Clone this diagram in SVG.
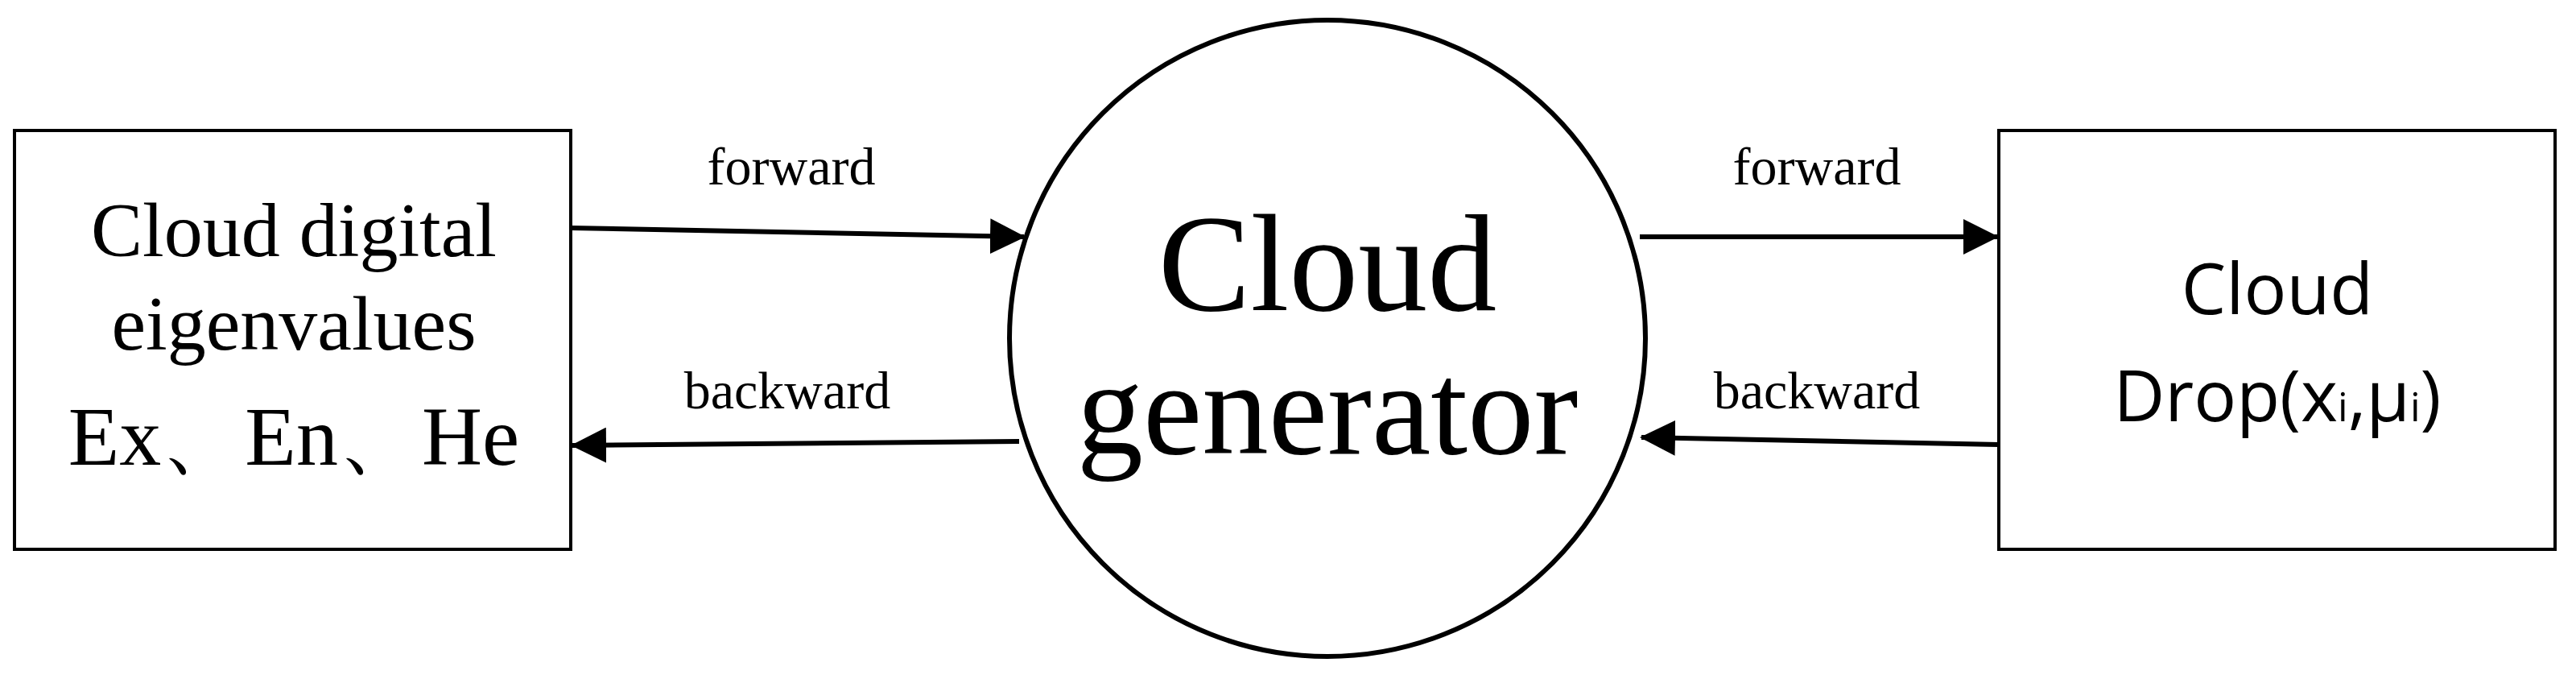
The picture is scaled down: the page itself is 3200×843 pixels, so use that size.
<svg xmlns="http://www.w3.org/2000/svg" width="3200" height="843" viewBox="0 0 3200 843">
<style>
.box{fill:#fff;stroke:#000;stroke-width:4}
.ser{font-family:"Liberation Serif","DejaVu Serif",serif;fill:#000;text-anchor:middle}
.sans{font-family:"Open Sans","Noto Sans","Liberation Sans",sans-serif;fill:#000;text-anchor:middle}
.lbl{font-size:66px}
.conn{stroke:#000;stroke-width:6;fill:none;marker-end:url(#ah)}
</style>
<defs>
<marker id="ah" markerUnits="userSpaceOnUse" markerWidth="44" markerHeight="44" viewBox="0 0 44 44" refX="42" refY="22" orient="auto">
<path d="M0,0 L44,22 L0,44 Z" fill="#000"/>
</marker>
</defs>
<rect width="3200" height="843" fill="#fff"/>
<g id="node-eigen">
<rect class="box" x="18" y="162" width="691" height="520"/>
<text class="ser" x="365" y="318" font-size="96">Cloud digital</text>
<text class="ser" x="365" y="434" font-size="96">eigenvalues</text>
<text class="ser" x="365" y="577" font-size="104" font-family="Liberation Serif, Noto Sans CJK SC, serif">Ex、En、He</text>
</g>
<g id="node-generator">
<circle cx="1649" cy="420" r="395" fill="#fff" stroke="#000" stroke-width="6"/>
<text class="ser" x="1649" y="385" font-size="172">Cloud</text>
<text class="ser" x="1649" y="563" font-size="165">generator</text>
</g>
<g id="node-drop">
<rect class="box" x="2483" y="162" width="691" height="520"/>
<text class="sans" x="2829" y="390" font-size="88">Cloud</text>
<text class="sans" x="2829" y="523" font-size="88">Drop(x<tspan font-size="50">i</tspan>,μ<tspan font-size="50">i</tspan>)</text>
</g>
<g id="connectors">
<line class="conn" x1="709" y1="283" x2="1272" y2="294"/>
<line class="conn" x1="1266" y1="548" x2="711" y2="553"/>
<line class="conn" x1="2037" y1="294" x2="2481" y2="294"/>
<line class="conn" x1="2483" y1="552" x2="2039" y2="543"/>
<text class="ser lbl" x="983" y="229">forward</text>
<text class="ser lbl" x="978" y="507">backward</text>
<text class="ser lbl" x="2257" y="229">forward</text>
<text class="ser lbl" x="2257" y="507">backward</text>
</g>
</svg>
